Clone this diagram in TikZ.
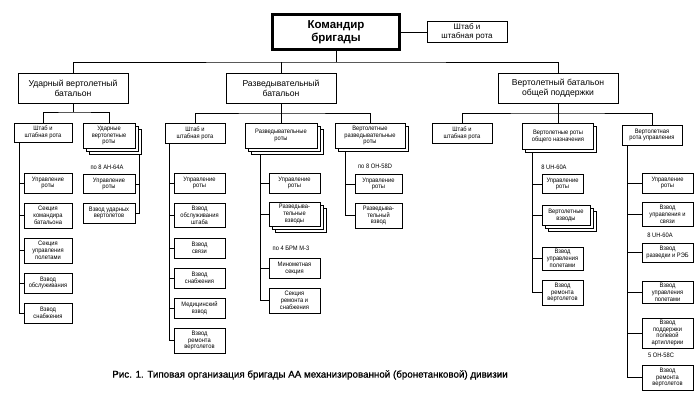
\documentclass[tikz,border=0pt]{standalone}
\usepackage{fontspec}
\setmainfont{Liberation Sans}
\newfontfamily\nar{Liberation Sans}[FakeStretch=0.9]
\newfontfamily\capf{Liberation Sans}[FakeBold=0.8]
\usetikzlibrary{shadows}
\newcommand\fsm{\nar\fontsize{6.4}{6.9}\selectfont}
\newcommand\fmd{\fontsize{8}{9}\selectfont}
\newcommand\fbt{\fontsize{8.6}{9.8}\selectfont}
\newcommand\obox[6]{\node[bx, minimum width=#4pt, minimum height=#5pt] (#1) at (#2,#3) {#6};}
\newcommand\cpy[5]{\filldraw[fill=white] (#1-#3/2+#5,#2-#4/2+#5) rectangle (#1+#3/2+#5,#2+#4/2+#5);}
\begin{document}
\begin{tikzpicture}[x=1pt,y=-1pt,line width=0.6pt,
  bx/.style={draw, fill=white, align=center, inner sep=0pt, font=\fsm,
    drop shadow={shadow xshift=0.7pt, shadow yshift=-0.7pt, opacity=1, fill=black}},
  cmdbox/.style={draw, fill=white, line width=1.3pt,
    align=center, inner sep=0pt, font=\bfseries\fontsize{11.5}{13}\selectfont},
  lbl/.style={inner sep=0pt, font=\fsm}]
\useasboundingbox (0,0) rectangle (700,402);

% top level
\node[cmdbox, minimum width=128pt, minimum height=36pt] (cmd) at (336,32) {Командир\\бригады};
\draw ([shift={(2.2pt,-2.2pt)}]cmd.north west) rectangle ([shift={(-2.2pt,2.2pt)}]cmd.south east);
\node[bx, font=\fmd, minimum width=80pt, minimum height=21pt] (hq) at (467,32) {Штаб и\\штабная рота};
\draw (cmd.east) -- (hq.west);

\node[bx, font=\fbt, minimum width=110pt, minimum height=30pt] (bat1) at (73,88) {Ударный вертолетный\\батальон};
\node[bx, font=\fbt, minimum width=110pt, minimum height=30pt] (bat2) at (281,88) {Разведывательный\\батальон};
\node[bx, font=\fbt, minimum width=120pt, minimum height=30pt] (bat3) at (558,88) {Вертолетный батальон\\общей поддержки};
\coordinate (jt) at (336,62);
\draw (cmd.south) -- (jt);
\draw (bat1.north) |- (jt) -| (bat3.north);
\draw (bat2.north) -- (bat2.north |- jt);

% ---- battalion 1
\obox{s1hq}{43}{132.5}{58}{19}{Штаб и\\штабная рота}
\cpy{109}{135.5}{52}{25}{6}
\cpy{109}{135.5}{52}{25}{3}
\obox{s1atk}{109}{135.5}{52}{25}{Ударные\\вертолетные\\роты}
\coordinate (j1) at (73,112);
\draw (bat1.south) -- (j1);
\draw (s1hq.north) |- (j1) -| (s1atk.north);

\obox{a1}{48}{183}{48}{20}{Управление\\роты}
\obox{a2}{48}{215.5}{48}{25}{Секция\\командира\\батальона}
\obox{a3}{48}{250.5}{48}{25}{Секция\\управления\\полетами}
\obox{a4}{48}{283}{48}{20}{Взвод\\обслуживания}
\obox{a5}{48}{313}{48}{20}{Взвод\\снабжения}
\coordinate (ta) at (19,142);
\draw (ta) |- (a5.west);
\foreach \n in {a1,a2,a3,a4} \draw (\n.west) -- (\n.west -| ta);

\node[lbl] (l1) at (107,167) {по 8 АН-64А};
\obox{b1}{109}{184}{52}{19}{Управление\\роты}
\obox{b2}{109}{213}{52}{20}{Взвод ударных\\вертолетов}
\coordinate (tb) at (139,154);
\draw (tb) |- (b2.east);
\draw (b1.east) -- (b1.east -| tb);

% ---- battalion 2
\obox{s2hq}{195}{133}{60}{20}{Штаб и\\штабная рота}
\cpy{281}{135.5}{72}{25}{6}
\cpy{281}{135.5}{72}{25}{3}
\obox{s2rec}{281}{135.5}{72}{25}{Разведывательные\\роты}
\cpy{370}{135.5}{70}{25}{3}
\obox{s2ahr}{370}{135.5}{70}{25}{Вертолетные\\разведывательные\\роты}
\coordinate (j2) at (281,113);
\draw (bat2.south) -- (s2rec.north);
\draw (s2hq.north) |- (j2) -| (s2ahr.north);

\obox{c1}{199.5}{183}{51}{20}{Управление\\роты}
\obox{c2}{199.5}{215}{51}{24}{Взвод\\обслуживания\\штаба}
\obox{c3}{199.5}{248}{51}{20}{Взвод\\связи}
\obox{c4}{199.5}{278}{51}{20}{Взвод\\снабжения}
\obox{c5}{199.5}{308}{51}{20}{Медицинский\\взвод}
\obox{c6}{199.5}{340.5}{51}{25}{Взвод\\ремонта\\вертолетов}
\coordinate (tc) at (169,143);
\draw (tc) |- (c6.west);
\foreach \n in {c1,c2,c3,c4,c5} \draw (\n.west) -- (\n.west -| tc);

\obox{d1}{294.5}{183}{51}{20}{Управление\\роты}
\cpy{294.5}{214}{51}{24}{6}
\cpy{294.5}{214}{51}{24}{3}
\obox{d2}{294.5}{214}{51}{24}{Разведыва-\\тельные\\взводы}
\node[lbl] (l2) at (291,248) {по 4 БРМ М-3};
\obox{d3}{294.5}{268}{51}{20}{Минометная\\секция}
\obox{d4}{294.5}{300.5}{51}{25}{Секция\\ремонта и\\снабжения}
\coordinate (td) at (260,154);
\draw (td) |- (d4.west);
\foreach \n in {d1,d2,d3} \draw (\n.west) -- (\n.west -| td);

\node[lbl] (l3) at (375,166) {по 8 ОН-58D};
\obox{e1}{378.5}{184}{47}{19}{Управление\\роты}
\obox{e2}{378.5}{215.5}{47}{25}{Разведыва-\\тельный\\взвод}
\coordinate (te) at (345,151);
\draw (te) |- (e2.west);
\draw (e1.west) -- (e1.west -| te);

% ---- battalion 3
\obox{s3hq}{462}{133}{60}{20}{Штаб и\\штабная рота}
\cpy{558}{136}{71}{26}{3}
\obox{s3gen}{558}{136}{71}{26}{Вертолетные роты\\общего назначения}
\obox{s3ctl}{652}{135}{60}{20}{Вертолетная\\рота управления}
\coordinate (j3) at (558,113);
\draw (bat3.south) -- (s3gen.north);
\draw (s3hq.north) |- (j3) -| (s3ctl.north);

\node[lbl, anchor=west] (l4) at (541,167) {8 UH-60A};
\obox{f1}{562.5}{184}{41}{19}{Управление\\роты}
\cpy{566}{215}{48}{20}{6}
\cpy{566}{215}{48}{20}{3}
\obox{f2}{566}{215}{48}{20}{Вертолетные\\взводы}
\obox{f3}{562.5}{258.5}{41}{23}{Взвод\\управления\\полетами}
\obox{f4}{562.5}{292.5}{41}{25}{Взвод\\ремонта\\вертолетов}
\coordinate (tf) at (532,152);
\draw (tf) |- (f4.west);
\foreach \n in {f1,f2,f3} \draw (\n.west) -- (\n.west -| tf);

\obox{g1}{667.5}{183}{51}{20}{Управление\\роты}
\obox{g2}{667.5}{214}{51}{24}{Взвод\\управления и\\связи}
\node[lbl] (l5) at (660,235) {8 UH-60A};
\obox{g3}{667.5}{252.5}{51}{19}{Взвод\\разведки и РЭБ}
\obox{g4}{667.5}{292}{51}{22}{Взвод\\управления\\полетами}
\obox{g5}{667.5}{333}{51}{30}{Взвод\\поддержки\\полевой\\артиллерии}
\node[lbl] (l6) at (661,355) {5 ОН-58С};
\obox{g6}{667.5}{377.5}{51}{25}{Взвод\\ремонта\\вертолетов}
\coordinate (tg) at (627,145);
\draw (tg) |- (g6.west);
\foreach \n in {g1,g2,g3,g4,g5} \draw (\n.west) -- (\n.west -| tg);

% caption
\node[inner sep=0pt, font=\capf\fontsize{9.8}{11}\selectfont] (cap) at (310,375)
  {Рис. 1. Типовая организация бригады АА механизированной (бронетанковой) дивизии};
\end{tikzpicture}
\end{document}
